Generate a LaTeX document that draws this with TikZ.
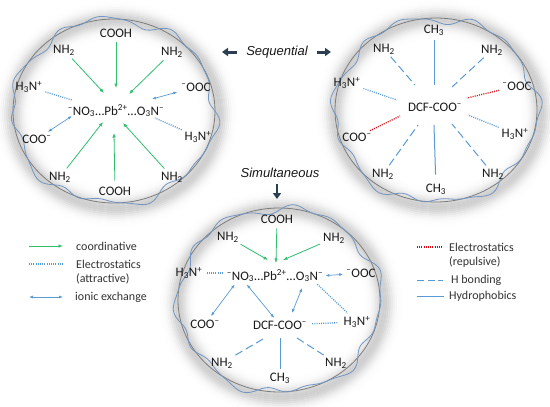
\documentclass[tikz,border=0pt]{standalone}
\usepackage{fontspec}
\setmainfont{Carlito}
\newfontfamily\arialfont{Liberation Sans}
\usetikzlibrary{positioning,arrows.meta}

\definecolor{coordgreen}{RGB}{46,190,110}
\definecolor{ionblue}{RGB}{91,155,213}
\definecolor{repred}{RGB}{210,10,20}
\definecolor{wallgray}{RGB}{125,125,125}
\definecolor{wallblue}{RGB}{115,150,195}
\definecolor{darkarrow}{RGB}{44,62,82}

% cell wall: centre x, centre y, phase of the wobble
\newcommand{\cellwall}[3]{%
  \foreach \d in {-18,-16,...,22}{
    \pgfmathsetmacro{\k}{19*exp(-((\d-2)/9)^2)}
    \draw[black!\k, line width=2.2pt] (#1+2,#2+3) ellipse [x radius={(101+\d)*1pt}, y radius={(92+\d)*1pt}];
  }
  \draw[wallgray, line width=0.8pt] (#1,#2) ellipse [x radius=101pt, y radius=92pt];
  \draw[wallblue, line width=0.8pt] plot[domain=0:358, samples=180, smooth]
    ({#1+(101+3*sin(6*\x+#3)+2.4*sin(11*\x+2*#3)+1.5*sin(17*\x+3*#3))*cos(\x)},
     {#2+(92+3*sin(6*\x+#3)+2.4*sin(11*\x+2*#3)+1.5*sin(17*\x+3*#3))*sin(\x)}) -- cycle;
}

\begin{document}
\begin{tikzpicture}[x=1pt,y=-1pt,
  lbl/.style={font=\fontsize{13}{15}\selectfont, text=black!90, inner sep=1pt},
  mid/.style={font=\fontsize{13}{15}\selectfont, text=black!90, inner sep=0pt},
  leg/.style={font=\fontsize{12}{14}\selectfont, text=black!80, inner sep=0pt, anchor=west},
  coord/.style={draw=coordgreen, line width=0.8pt, -{Latex[length=4.5pt,width=3.5pt]}},
  ionic/.style={draw=ionblue, line width=0.7pt, {Latex[length=4pt,width=3pt]}-{Latex[length=4pt,width=3pt]}},
  attract/.style={draw=ionblue, line width=1.3pt, dash pattern=on 1pt off 1.2pt},
  repuls/.style={draw=repred, line width=1.3pt, dash pattern=on 1pt off 1.2pt},
  hbond/.style={draw=ionblue, line width=1pt, dash pattern=on 8pt off 4pt},
  hydro/.style={draw=ionblue, line width=1pt},
  seqarrow/.style={draw=darkarrow, line width=3pt, -{Triangle[length=6pt,width=8pt]}},
  title/.style={font=\arialfont\itshape\fontsize{13}{15}\selectfont, text=black!90},
]
\path[use as bounding box, fill=white] (0,0) rectangle (550,407);

\cellwall{114}{111}{0}
\cellwall{436}{110}{70}
\cellwall{279}{300}{140}

% sequential (left)
\node[lbl] (cA1) at (116,33) {COOH};
\node[lbl] (nA1) at (64,50) {NH\textsubscript{2}};
\node[lbl] (nA2) at (172,52) {NH\textsubscript{2}};
\node[lbl] (hA1) at (29,87) {H\textsubscript{3}N\textsuperscript{+}};
\node[lbl] (oA1) at (196,87) {\textsuperscript{--}OOC};
\node[mid] (pbA) at (116,110) {…Pb\textsuperscript{2+}…};
\node[mid,anchor=base east] (noA) at (pbA.base west) {\textsuperscript{--}NO\textsubscript{3}};
\node[mid,anchor=base west] (onA) at (pbA.base east) {O\textsubscript{3}N\textsuperscript{--}};
\node[lbl] (kA1) at (37,139) {COO\textsuperscript{--}};
\node[lbl] (hA2) at (198,137) {H\textsubscript{3}N\textsuperscript{+}};
\node[lbl] (nA3) at (60,177) {NH\textsubscript{2}};
\node[lbl] (cA2) at (115,191) {COOH};
\node[lbl] (nA4) at (172,177) {NH\textsubscript{2}};

\coordinate (tA1) at (116,88);
\coordinate (tA2) at (104,93);
\coordinate (tA3) at (129,94);
\coordinate (tA4) at (103,122);
\coordinate (tA5) at (114,133);
\coordinate (tA6) at (123,123);
\coordinate (dA1) at (72,100);
\coordinate (dA2) at (155,118);
\coordinate (xA1) at (152,99);
\coordinate (xA2) at (72,116);
\draw[coord, shorten <=4pt] (cA1) -- (tA1);
\draw[coord, shorten <=3pt] (nA1) -- (tA2);
\draw[coord, shorten <=3pt] (nA2) -- (tA3);
\draw[coord, shorten <=3pt] (nA3) -- (tA4);
\draw[coord, shorten <=5pt] (cA2) -- (tA5);
\draw[coord, shorten <=3pt] (nA4) -- (tA6);
\draw[attract, shorten <=2pt] (hA1) -- (dA1);
\draw[attract, shorten <=2pt] (hA2) -- (dA2);
\draw[ionic, shorten <=3pt] (oA1) -- (xA1);
\draw[ionic, shorten <=3pt] (kA1) -- (xA2);

% sequential (right)
\node[lbl] (mB1) at (434,30) {CH\textsubscript{3}};
\node[lbl] (nB1) at (384,49) {NH\textsubscript{2}};
\node[lbl] (nB2) at (492,50) {NH\textsubscript{2}};
\node[lbl] (hB1) at (347,83) {H\textsubscript{3}N\textsuperscript{+}};
\node[lbl] (oB1) at (517,86) {\textsuperscript{--}OOC};
\node[lbl] (dcfB) at (435,107) {DCF-COO\textsuperscript{--}};
\node[lbl] (kB1) at (357,137) {COO\textsuperscript{--}};
\node[lbl] (hB2) at (515,134) {H\textsubscript{3}N\textsuperscript{+}};
\node[lbl] (nB3) at (383,174) {NH\textsubscript{2}};
\node[lbl] (mB2) at (436,189) {CH\textsubscript{3}};
\node[lbl] (nB4) at (493,174) {NH\textsubscript{2}};

\coordinate (sB1) at (434,85);
\coordinate (sB2) at (434,125);
\coordinate (eB1) at (415,85);
\coordinate (eB2) at (452,87);
\coordinate (eB3) at (418,125);
\coordinate (eB4) at (452,124);
\coordinate (aB1) at (397,100);
\coordinate (aB2) at (468,115);
\coordinate (rB1) at (467,98);
\coordinate (rB2) at (400,116);
\draw[hydro, shorten <=4pt] (mB1) -- (sB1);
\draw[hydro, shorten <=8pt] (mB2) -- (sB2);
\draw[hbond, shorten <=2pt] (nB1) -- (eB1);
\draw[hbond, shorten <=2pt] (nB2) -- (eB2);
\draw[hbond, shorten <=3pt] (nB3) -- (eB3);
\draw[hbond, shorten <=3pt] (nB4) -- (eB4);
\draw[attract, shorten <=2pt] (hB1) -- (aB1);
\draw[attract, shorten <=2pt] (hB2) -- (aB2);
\draw[repuls, shorten <=2pt] (oB1) -- (rB1);
\draw[repuls, shorten <=2pt] (kB1) -- (rB2);

% simultaneous (bottom)
\node[lbl] (cC1) at (277,219) {COOH};
\node[lbl] (nC1) at (228,237) {NH\textsubscript{2}};
\node[lbl] (nC2) at (334,238) {NH\textsubscript{2}};
\node[lbl] (hC1) at (189,273) {H\textsubscript{3}N\textsuperscript{+}};
\node[mid] (pbC) at (275,275) {…Pb\textsuperscript{2+}…};
\node[mid,anchor=base east] (noC) at (pbC.base west) {\textsuperscript{--}NO\textsubscript{3}};
\node[mid,anchor=base west] (onC) at (pbC.base east) {O\textsubscript{3}N\textsuperscript{--}};
\node[lbl] (oC1) at (361,273) {\textsuperscript{--}OOC};
\node[lbl] (kC1) at (205,324) {COO\textsuperscript{--}};
\node[lbl] (dcfC) at (280,325) {DCF-COO\textsuperscript{--}};
\node[lbl] (hC2) at (357,322) {H\textsubscript{3}N\textsuperscript{+}};
\node[lbl] (nC3) at (222,363) {NH\textsubscript{2}};
\node[lbl] (mC1) at (280,378) {CH\textsubscript{3}};
\node[lbl] (nC4) at (336,363) {NH\textsubscript{2}};

\coordinate (tC1) at (276,263);
\coordinate (tC2) at (268,260);
\coordinate (tC3) at (283,260);
\coordinate (aC1) at (223,273);
\coordinate (xC1) at (302,288);
\coordinate (xC2) at (292,313);
\coordinate (eC1) at (263,339);
\coordinate (sC1) at (280,338);
\coordinate (eC2) at (297,338);
\draw[coord, shorten <=4pt] (cC1) -- (tC1);
\draw[coord, shorten <=2pt] (nC1) -- (tC2);
\draw[coord, shorten <=2pt] (nC2) -- (tC3);
\draw[attract, shorten <=3pt] (hC1) -- (aC1);
\draw[ionic, shorten <=2pt, shorten >=2pt] (onC) -- (oC1);
\draw[attract, shorten <=3pt, shorten >=3pt] (onC) -- (hC2);
\draw[ionic, shorten <=3pt, shorten >=3pt] (noC) -- (kC1);
\draw[ionic, shorten <=3pt, shorten >=2pt] (noC) -- (dcfC);
\draw[ionic] (xC1) -- (xC2);
\draw[attract, shorten <=4pt, shorten >=4pt] (dcfC) -- (hC2);
\draw[hbond, shorten >=3pt] (eC1) -- (nC3);
\draw[hydro, shorten >=3pt] (sC1) -- (mC1);
\draw[hbond, shorten >=3pt] (eC2) -- (nC4);

% titles and big arrows
\node[title] (seq) at (277,52) {Sequential};
\coordinate (qL) at (222,52);
\coordinate (qR) at (331,52);
\draw[seqarrow, shorten <=6pt] (seq) -- (qL);
\draw[seqarrow, shorten <=6pt] (seq) -- (qR);
\node[title] (sim) at (280,173) {Simultaneous};
\coordinate (qD) at (277,199);
\draw[seqarrow, line width=2.5pt, shorten <=3pt] (qD |- sim.south) -- (qD);

% legend (left)
\coordinate (lA1s) at (29,246); \coordinate (lA1e) at (63,246);
\coordinate (lA2s) at (29,264); \coordinate (lA2e) at (63,264);
\coordinate (lA3s) at (29,297); \coordinate (lA3e) at (63,297);
\draw[coord] (lA1s) -- (lA1e);
\draw[attract] (lA2s) -- (lA2e);
\draw[ionic] (lA3s) -- (lA3e);
\node[leg] (lgA1) at (76,246) {coordinative};
\node[leg] (lgA2) at (76,264) {Electrostatics};
\node[leg] (lgA2b) at (76,279) {(attractive)};
\node[leg] (lgA3) at (75,297) {ionic exchange};

% legend (right)
\coordinate (lB1s) at (417,247); \coordinate (lB1e) at (442,247);
\coordinate (lB2s) at (417,280); \coordinate (lB2e) at (443,280);
\coordinate (lB3s) at (417,296); \coordinate (lB3e) at (444,296);
\draw[repuls] (lB1s) -- (lB1e);
\draw[hbond, dash pattern=on 7pt off 3.5pt] (lB2s) -- (lB2e);
\draw[hydro] (lB3s) -- (lB3e);
\node[leg] (lgB1) at (449,247) {Electrostatics};
\node[leg] (lgB1b) at (449,262) {(repulsive)};
\node[leg] (lgB2) at (451,280) {H bonding};
\node[leg] (lgB3) at (449,296) {Hydrophobics};
\end{tikzpicture}
\end{document}
